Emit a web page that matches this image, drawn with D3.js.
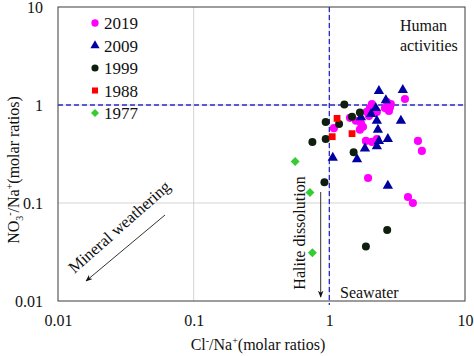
<!DOCTYPE html>
<html><head><meta charset="utf-8">
<script src="https://cdn.jsdelivr.net/npm/d3@7"></script>
<style>body{margin:0;background:#fff}svg{display:block}text{font-family:"Liberation Serif","Times New Roman",serif;fill:#111}</style>
</head><body>
<svg id="c" width="474" height="356"></svg>
<script>
const years = ["2019","2009","1999","1988","1977"];
const s2019 = [[3.61,1.15],[2.66,1.07],[2.84,1.02],[2.57,0.93],[2.80,0.95],[2.75,0.87],[2.06,1.02],[1.99,0.93],[2.24,0.85],[1.89,0.85],[1.96,0.77],[1.42,0.74],[1.57,0.69],[1.71,0.655],[1.77,0.60],[1.68,0.56],[1.08,0.58],[1.86,0.43],[2.06,0.42],[2.24,0.45],[4.50,0.43],[4.81,0.34],[1.93,0.18],[3.80,0.115],[4.13,0.10]];
const s2009 = [[2.32,1.39],[3.48,1.42],[2.61,1.12],[2.20,0.93],[2.03,0.81],[1.71,0.75],[2.24,0.69],[3.37,0.69],[2.28,0.56],[2.70,0.45],[2.32,0.43],[2.24,0.38],[1.83,0.36],[1.60,0.28],[1.06,0.29],[2.70,0.15]];
const s1999 = [[1.29,1.01],[1.68,0.84],[1.47,0.76],[0.94,0.67],[1.18,0.64],[0.94,0.45],[0.75,0.42],[1.51,0.33],[0.92,0.163],[2.67,0.053],[1.86,0.036]];
const s1988 = [[1.14,0.73],[1.47,0.51],[1.05,0.475]];
const s1977 = [[0.56,0.265],[0.72,0.128],[0.75,0.031]];
const xTicks = [0.01,0.1,1,10];
const yTicks = [0.01,0.1,1,10];
const xTickLabels = ["0.01","0.1","1","10"];
const yTickLabels = ["0.01","0.1","1","10"];

const seriesData = [s2019,s2009,s1999,s1988,s1977];
const colors = ["#ff00ff","#0000a0","#0f1f0f","#ff0000","#33cc33"];
const shapes = [d3.symbolCircle,d3.symbolTriangle,d3.symbolCircle,d3.symbolSquare,d3.symbolSquare];
const sizes = [52,46,50,46,40];
const rot = [0,0,0,0,45];

const svg = d3.select("#c");
const L=58,R=465,T=7,B=301;
const x = d3.scaleLog().domain([0.01,10]).range([L,R]);
const y = d3.scaleLog().domain([0.01,10]).range([B,T]);

// grid
svg.append("g").selectAll("line").data(xTicks.slice(1,3)).join("line")
  .attr("x1",d=>x(d)).attr("x2",d=>x(d)).attr("y1",T).attr("y2",B)
  .attr("stroke","#d4d4d4").attr("stroke-width",1);
svg.append("g").selectAll("line").data(yTicks.slice(1,3)).join("line")
  .attr("y1",d=>y(d)).attr("y2",d=>y(d)).attr("x1",L).attr("x2",R)
  .attr("stroke","#d4d4d4").attr("stroke-width",1);

// dashed reference lines
svg.append("line").attr("x1",L).attr("x2",R).attr("y1",y(1)).attr("y2",y(1))
  .attr("stroke","#2a2ac8").attr("stroke-width",1.3).attr("stroke-dasharray","5,3");
svg.append("line").attr("x1",x(1)).attr("x2",x(1)).attr("y1",T).attr("y2",B+4)
  .attr("stroke","#2a2ac8").attr("stroke-width",1.3).attr("stroke-dasharray","5,3");

// border
svg.append("rect").attr("x",L).attr("y",T).attr("width",R-L).attr("height",B-T)
  .attr("fill","none").attr("stroke","#3a3a3a").attr("stroke-width",1);

// axes labels
const xa = d3.axisBottom(x).tickValues(xTicks).tickFormat((d,i)=>xTickLabels[i]).tickSize(0).tickPadding(14);
const gx = svg.append("g").attr("transform",`translate(0,${B})`).call(xa);
gx.attr("font-family",null);
gx.select(".domain").remove();
gx.selectAll("text").attr("font-size",16).attr("fill","#111").style("font-family","Liberation Serif");
const ya = d3.axisLeft(y).tickValues(yTicks).tickFormat((d,i)=>yTickLabels[i]).tickSize(0).tickPadding(15);
const gy = svg.append("g").attr("transform",`translate(${L},0)`).call(ya);
gy.attr("font-family",null);
gy.select(".domain").remove();
gy.selectAll("text").attr("font-size",16).attr("fill","#111").style("font-family","Liberation Serif");

// points
seriesData.forEach((data,i)=>{
  svg.append("g").selectAll("path").data(data).join("path")
    .attr("d",d3.symbol().type(shapes[i]).size(sizes[i]))
    .attr("transform",d=>`translate(${x(d[0])},${y(d[1])}) rotate(${rot[i]})`)
    .attr("fill",colors[i]);
});

// legend
years.forEach((yr,i)=>{
  const ly = 23 + i*22.5;
  svg.append("path").attr("d",d3.symbol().type(shapes[i]).size(sizes[i]*0.8))
    .attr("transform",`translate(95,${ly}) rotate(${rot[i]})`).attr("fill",colors[i]);
  svg.append("text").attr("x",104).attr("y",ly+6).attr("font-size",17).text(yr);
});

// titles
const xt = svg.append("text").attr("x",258).attr("y",350).attr("text-anchor","middle").attr("font-size",16);
xt.append("tspan").text("Cl");
xt.append("tspan").attr("dy",-6).attr("font-size",10).text("-");
xt.append("tspan").attr("dy",6).text("/Na");
xt.append("tspan").attr("dy",-6).attr("font-size",10).text("+");
xt.append("tspan").attr("dy",6).text("(molar ratios)");

const yt = svg.append("text").attr("transform","translate(19,170) rotate(-90)").attr("text-anchor","middle").attr("font-size",16);
yt.append("tspan").text("NO");
yt.append("tspan").attr("dy",4).attr("font-size",10).text("3");
yt.append("tspan").attr("dy",-10).attr("font-size",10).text("-");
yt.append("tspan").attr("dy",6).text("/Na");
yt.append("tspan").attr("dy",-6).attr("font-size",10).text("+");
yt.append("tspan").attr("dy",6).text("(molar ratios)");

// annotations
svg.append("text").attr("x",400).attr("y",31).attr("font-size",16).text("Human");
svg.append("text").attr("x",400).attr("y",51).attr("font-size",16).text("activities");
svg.append("text").attr("x",340).attr("y",298).attr("font-size",16).text("Seawater");
svg.append("text").attr("transform","translate(305,233) rotate(-90)").attr("text-anchor","middle").attr("font-size",16).text("Halite dissolution");
svg.append("text").attr("transform","translate(123,231) rotate(-41.5)").attr("text-anchor","middle").attr("font-size",16.5).text("Mineral weathering");

const defs = svg.append("defs");
defs.append("marker").attr("id","ah").attr("viewBox","0 0 10 10").attr("refX",9).attr("refY",5)
  .attr("markerWidth",7).attr("markerHeight",7).attr("orient","auto")
  .append("path").attr("d","M0,1 L10,5 L0,9 L3,5 Z").attr("fill","#111");
svg.append("line").attr("x1",320.7).attr("y1",192).attr("x2",320.7).attr("y2",297)
  .attr("stroke","#333").attr("stroke-width",1).attr("marker-end","url(#ah)");
svg.append("line").attr("x1",165).attr("y1",215).attr("x2",86).attr("y2",281)
  .attr("stroke","#333").attr("stroke-width",1).attr("marker-end","url(#ah)");
</script>
</body></html>
